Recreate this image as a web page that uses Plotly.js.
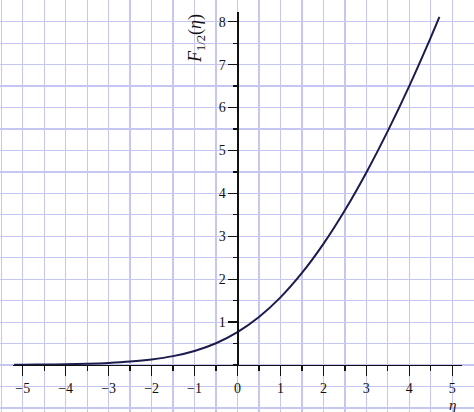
<!DOCTYPE html>
<html>
<head>
<meta charset="utf-8">
<script src="https://cdn.plot.ly/plotly-3.0.1.min.js"></script>
<style>
  html, body { margin: 0; padding: 0; background: #fff; }
  #chart { width: 474px; height: 412px; }
</style>
</head>
<body>
<div id="chart"></div>
<script>
// F_{1/2}(eta), values
const eta = [-5.2, -5, -4.5, -4, -3.5, -3, -2.5, -2, -1.5, -1, -0.5, 0,
             0.5, 1, 1.5, 2, 2.5, 3, 3.5, 4, 4.5, 4.7];
const fHalf = [0.0055, 0.0067, 0.0111, 0.0182, 0.0299, 0.0489, 0.0798, 0.1293,
               0.2074, 0.3278, 0.5075, 0.7651, 1.1173, 1.5756, 2.1448, 2.8236,
               3.6068, 4.4875, 5.456, 6.506, 7.636, 8.110];

const xTicks = [-5, -4, -3, -2, -1, 0, 1, 2, 3, 4, 5];
const yTicks = [1, 2, 3, 4, 5, 6, 7, 8];

const serif = "Liberation Serif, DejaVu Serif, serif";
const ink = "#111";
const gridCol = "#c6c6f2";

// background grid axes cover the whole picture, the drawn axes sit at the origin
const gridAxis = {
  showgrid: true, gridcolor: gridCol, gridwidth: 1.2,
  dtick: 0.5, tick0: 0, zeroline: false, showline: false,
  ticks: "", showticklabels: false, fixedrange: true
};

const layout = {
  width: 474, height: 412,
  margin: {l: 0, r: 0, t: 0, b: 0},
  paper_bgcolor: "#fff",
  plot_bgcolor: "rgba(0,0,0,0)",
  showlegend: false,
  xaxis: Object.assign({}, gridAxis, {range: [-5.528, 5.505], domain: [0, 1]}),
  yaxis: Object.assign({}, gridAxis, {range: [-1.095, 8.506], domain: [0, 1]}),
  xaxis2: {
    domain: [0.0281, 0.974], range: [-5.219, 5.219],
    anchor: "free", position: 0.1141, side: "bottom",
    showgrid: false, zeroline: false,
    showline: true, linecolor: ink, linewidth: 1.3,
    tickmode: "array", tickvals: xTicks,
    ticks: "outside", ticklen: 10, tickwidth: 1.3, tickcolor: ink,
    minor: {tickmode: "linear", tick0: 0, dtick: 0.5, ticks: "outside",
            ticklen: 5, tickwidth: 1.3, tickcolor: ink, showgrid: false},
    tickfont: {family: serif, size: 14, color: ink},
    fixedrange: true
  },
  yaxis2: {
    domain: [0.1141, 0.9709], range: [0, 8.227],
    anchor: "free", position: 0.501, side: "left",
    showgrid: false, zeroline: false,
    showline: true, linecolor: ink, linewidth: 1.3,
    tickmode: "array", tickvals: yTicks,
    ticksuffix: "\u2002\u2009",
    ticks: "outside", ticklen: 9, tickwidth: 1.3, tickcolor: ink,
    minor: {tickmode: "linear", tick0: 0, dtick: 0.5, ticks: "outside",
            ticklen: 4, tickwidth: 1.3, tickcolor: ink, showgrid: false},
    tickfont: {family: serif, size: 14, color: ink},
    fixedrange: true
  },
  annotations: [
    {xref: "x", yref: "y", x: 5.01, y: -0.93, showarrow: false,
     text: "<i>η</i>", font: {family: serif, size: 15, color: ink}},
    {xref: "x", yref: "y", x: -0.966, y: 7.62, showarrow: false, textangle: -90,
     text: "<i>F</i><sub>1/2</sub>(<i>η</i>)", font: {family: serif, size: 18, color: ink}}
  ]
};

const traces = [
  {x: eta, y: fHalf, xaxis: "x", yaxis: "y", type: "scatter", mode: "lines",
   line: {color: "#1b1b4d", width: 2, shape: "spline"}, hoverinfo: "skip"},
  {x: [xTicks[0]], y: [yTicks[0]], xaxis: "x2", yaxis: "y2", type: "scatter",
   mode: "markers", marker: {opacity: 0}, hoverinfo: "skip"}
];

Plotly.newPlot("chart", traces, layout, {displayModeBar: false, staticPlot: true});
</script>
</body>
</html>
